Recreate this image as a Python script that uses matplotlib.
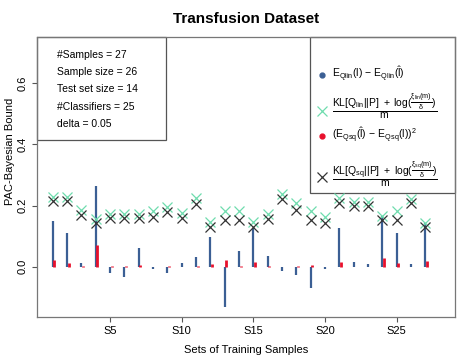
import matplotlib
matplotlib.use('Agg')
import matplotlib.pyplot as plt
from matplotlib.patches import Rectangle

plt.rcParams['font.family'] = ['Liberation Sans', 'DejaVu Sans']
plt.rcParams['mathtext.fontset'] = 'custom'
plt.rcParams['mathtext.rm'] = 'Liberation Sans'
plt.rcParams['mathtext.it'] = 'Liberation Sans'
plt.rcParams['mathtext.bf'] = 'Liberation Sans:bold'

samples = list(range(1, 28))
lin_diff = [0.150, 0.110, 0.011, 0.264, -0.022, -0.033, 0.062, -0.009, -0.022, 0.013,
            0.033, 0.098, -0.131, 0.051, 0.126, 0.035, -0.013, -0.027, -0.069, -0.008,
            0.126, 0.015, 0.009, 0.166, 0.109, 0.009, 0.142]
sq_diff = [0.022, 0.012, 0.001, 0.070, 0.0005, 0.001, 0.004, 0.0001, 0.0005, 0.0002,
           0.001, 0.010, 0.022, 0.003, 0.016, 0.001, 0.0002, 0.0007, 0.005, 0.0001,
           0.016, 0.0002, 0.0001, 0.028, 0.012, 0.0001, 0.020]
kl_lin = [0.229, 0.227, 0.186, 0.155, 0.172, 0.172, 0.172, 0.183, 0.196, 0.177,
          0.224, 0.145, 0.182, 0.182, 0.147, 0.172, 0.237, 0.207, 0.182, 0.162,
          0.224, 0.212, 0.212, 0.166, 0.182, 0.220, 0.142]
kl_sq = [0.215, 0.215, 0.169, 0.142, 0.160, 0.160, 0.160, 0.162, 0.180, 0.158,
         0.205, 0.129, 0.153, 0.153, 0.131, 0.155, 0.220, 0.186, 0.153, 0.144,
         0.210, 0.198, 0.198, 0.153, 0.153, 0.207, 0.129]
tick_pos = [5, 10, 15, 20, 25]
tick_labels = ['S5', 'S10', 'S15', 'S20', 'S25']
info = ['#Samples = 27', 'Sample size = 26', 'Test set size = 14',
        '#Classifiers = 25', 'delta = 0.05']

blue = '#3b5f94'
red = '#e8102c'
green = '#6fdcae'
dark = '#333333'

fig = plt.figure(figsize=(4.74, 3.64), dpi=100)
ax = fig.add_axes([0.0781, 0.1291, 0.8819, 0.7692])

ax.vlines(samples, 0, lin_diff, color=blue, lw=1.6)
ax.vlines([s + 0.12 for s in samples], 0, sq_diff, color=red, lw=2.0)
ax.plot(samples, kl_lin, ls='none', marker='x', ms=7, mew=0.9, color=green)
ax.plot(samples, kl_sq, ls='none', marker='x', ms=7, mew=0.9, color=dark)

ax.set_xlim(-0.08, 29.08)
ax.set_ylim(-0.165, 0.752)
ax.set_xticks(tick_pos)
ax.set_xticklabels(tick_labels, fontsize=8)
ax.set_yticks([0.0, 0.2, 0.4, 0.6])
ax.set_yticklabels(['0.0', '0.2', '0.4', '0.6'], fontsize=8, rotation=90, va='center')
ax.tick_params(length=3.6, width=0.8, color='#555555', pad=3)
for sp in ax.spines.values():
    sp.set_color('#777777')
    sp.set_linewidth(0.9)

ax.set_xlabel('Sets of Training Samples', fontsize=8, labelpad=6)
ax.set_ylabel('PAC-Bayesian Bound', fontsize=8)
ax.yaxis.set_label_coords(-0.053, 0.59)
ax.set_title('Transfusion Dataset', fontsize=11, fontweight='bold', pad=10)

# left info box
ax.add_patch(Rectangle((0, 0.632), 0.3086, 0.368, transform=ax.transAxes,
                       fill=False, ec='#555555', lw=0.9, clip_on=False))
for i, t in enumerate(info):
    ax.text(0.048, 0.936 - i * 0.0617, t, transform=ax.transAxes,
            fontsize=7.5, va='center', ha='left')

# right legend box
ax.add_patch(Rectangle((0.653, 0.443), 0.347, 0.557, transform=ax.transAxes,
                       fill=False, ec='#555555', lw=0.9, clip_on=False))
ax.plot([0.682], [0.865], transform=ax.transAxes, marker='o', ms=3.5, color=blue, ls='none')
ax.plot([0.682], [0.736], transform=ax.transAxes, marker='x', ms=7, mew=0.9, color=green, ls='none')
ax.plot([0.682], [0.646], transform=ax.transAxes, marker='o', ms=3.5, color=red, ls='none')
ax.plot([0.682], [0.501], transform=ax.transAxes, marker='x', ms=7, mew=0.9, color=dark, ls='none')

ax.text(0.706, 0.868, r'$\mathrm{E}_{Qlin}(\mathrm{l})\/-\/\mathrm{E}_{Qlin}(\hat{\mathrm{l}})$',
        transform=ax.transAxes, fontsize=7.5, va='center', ha='left')
ax.text(0.706, 0.755,
        r'$\dfrac{\mathrm{KL}[Q_{lin}||P]\ +\ \log(\frac{\xi_{lin}(m)}{\delta})}{m}$',
        transform=ax.transAxes, fontsize=7.5, va='center', ha='left')
ax.text(0.706, 0.650, r'$(\mathrm{E}_{Qsq}(\hat{\mathrm{l}})\/-\/\mathrm{E}_{Qsq}(\mathrm{l}))^2$',
        transform=ax.transAxes, fontsize=7.5, va='center', ha='left')
ax.text(0.706, 0.51,
        r'$\dfrac{\mathrm{KL}[Q_{sq}||P]\ +\ \log(\frac{\xi_{sq}(m)}{\delta})}{m}$',
        transform=ax.transAxes, fontsize=7.5, va='center', ha='left')

fig.savefig('out.png', dpi=100)
